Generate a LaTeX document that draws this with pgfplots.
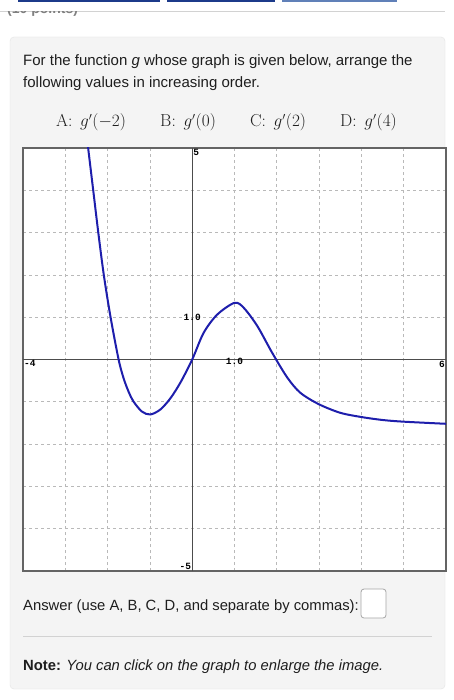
\documentclass[border=0pt]{standalone}
\usepackage[no-math]{fontspec}
\setmainfont{Liberation Sans}
\newfontfamily\lblfont{Liberation Mono}
\usepackage{pgfplots}
\pgfplotsset{compat=1.18}
\usetikzlibrary{shadows}

\definecolor{cardgray}{RGB}{244,244,244}
\definecolor{cardedge}{RGB}{228,228,228}
\definecolor{btnblue}{RGB}{28,58,138}
\definecolor{btnlight}{RGB}{96,128,184}
\definecolor{curveblue}{RGB}{30,30,172}
\definecolor{frame}{RGB}{100,100,100}
\definecolor{gridgray}{RGB}{185,185,185}
\definecolor{txt}{RGB}{30,30,30}

\newcommand{\lbl}{\lblfont\fontsize{9.5}{9.5}\selectfont\bfseries}

\begin{document}
\begin{tikzpicture}[x=1pt,y=-1pt]
% page, coordinates in pixels of the screenshot
\useasboundingbox[fill=white] (0,0) rectangle (454,700);

% cut off header behind the top card
\node[anchor=base west,inner sep=0,text=gray,font=\fontsize{14}{14}\selectfont\bfseries] at (7,14) {(10 points)};
\fill[white,drop shadow={shadow xshift=0pt,shadow yshift=-1.5pt,opacity=.35}] (-5,-10) rectangle (445,11);
\fill[btnblue] (18,-4) rectangle (160,2);
\fill[btnblue] (167,-4) rectangle (275,2);
\fill[btnlight] (282,-4) rectangle (397,2);

% question card
\draw[cardedge,fill=cardgray,rounded corners=4pt] (10,37) rectangle (445,689);

\begin{scope}[every node/.style={anchor=base west,inner sep=0,text=txt}]
\node[font=\fontsize{15}{15}\selectfont] at (23,66) {For the function \textit{g} whose graph is given below, arrange the};
\node[font=\fontsize{15}{15}\selectfont] at (23,88) {following values in increasing order.};
\node[font=\fontsize{16}{16}\selectfont] at (56,127) {$\mathrm{A}\mathpunct{:}\;g'(-2)$};
\node[font=\fontsize{16}{16}\selectfont] at (160,127) {$\mathrm{B}\mathpunct{:}\;g'(0)$};
\node[font=\fontsize{16}{16}\selectfont] at (250,127) {$\mathrm{C}\mathpunct{:}\;g'(2)$};
\node[font=\fontsize{16}{16}\selectfont] at (340,127) {$\mathrm{D}\mathpunct{:}\;g'(4)$};
\node[font=\fontsize{14.8}{14.8}\selectfont] at (23,610) {Answer (use A, B, C, D, and separate by commas):};
\node[font=\fontsize{14.8}{14.8}\selectfont] at (23,670) {\textbf{Note:} \textit{You can click on the graph to enlarge the image.}};
\end{scope}
\draw[gray!70,fill=white,rounded corners=3pt,line width=0.8pt] (361,589) rectangle (386,618);
\draw[gray!35,line width=1pt] (23,636) -- (432,636);

\begin{axis}[
  at={(23pt,-571pt)}, anchor=south west,
  scale only axis,
  width=423pt, height=423pt,
  xmin=-4, xmax=6,
  ymin=-5, ymax=5,
  xtick={-4,...,6}, ytick={-5,...,5},
  xticklabels={}, yticklabels={},
  major tick length=0pt,
  grid=major,
  grid style={dashed, gridgray, line width=0.7pt},
  axis line style={draw=frame, line width=1.4pt},
  axis background/.style={fill=white},
  clip=true,
]
\draw[black!70,line width=0.9pt] (axis cs:-4,0) -- (axis cs:6,0);
\draw[black!70,line width=0.9pt] (axis cs:0,-5) -- (axis cs:0,5);

\addplot[smooth, tension=0.5, curveblue, line width=2pt] coordinates {
  (-2.53,5.6) (-2.46,5.0) (-2.34,4.0) (-2.22,3.0) (-2.09,2.0) (-1.93,1.0)
  (-1.74,0.0) (-1.62,-0.45) (-1.5,-0.77) (-1.39,-0.99) (-1.19,-1.23) (-0.99,-1.30)
  (-0.75,-1.18) (-0.51,-0.91) (-0.27,-0.53) (0,0) (0.27,0.63)
  (0.59,1.06) (1.0,1.34) (1.22,1.22) (1.54,0.79) (1.89,0.16)
  (2.25,-0.43) (2.56,-0.79) (3.0,-1.06) (3.5,-1.26) (4.0,-1.36)
  (4.5,-1.43) (5.0,-1.47) (6.0,-1.52)
};

\node[font=\lbl,inner sep=1pt,anchor=north west] at (axis cs:0,5) {5};
\node[font=\lbl,inner sep=1pt,anchor=south east] at (axis cs:0,-5) {-5};
\node[font=\lbl,inner sep=1pt,anchor=north west] at (axis cs:-4,0) {-4};
\node[font=\lbl,inner sep=1pt,anchor=north east] at (axis cs:6,0) {6};
\node[font=\lbl,inner sep=0pt,anchor=center] at (axis cs:0,1) {1.0};
\node[font=\lbl,inner sep=0pt,anchor=center] at (axis cs:1,-0.05) {1.0};
\end{axis}
\end{tikzpicture}
\end{document}
